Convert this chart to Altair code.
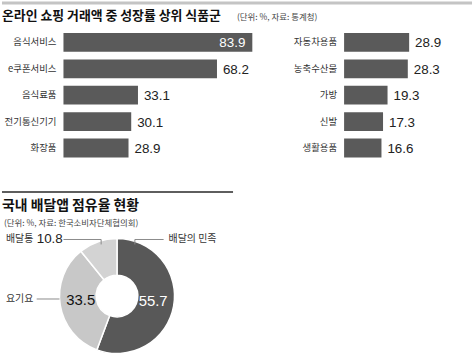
import math
import altair as alt
import pandas as pd

# ---------------- data ----------------
left_cats = ["음식서비스", "e쿠폰서비스", "음식료품", "전기통신기기", "화장품"]
left_vals = [83.9, 68.2, 33.1, 30.1, 28.9]
right_cats = ["자동차용품", "농축수산물", "가방", "신발", "생활용품"]
right_vals = [28.9, 28.3, 19.3, 17.3, 16.6]
pie_cats = ["배달의 민족", "요기요", "배달통"]
pie_vals = [55.7, 33.5, 10.8]

title1 = "온라인 쇼핑 거래액 중 성장률 상위 식품군"
sub1 = "(단위: %, 자료: 통계청)"
title2 = "국내 배달앱 점유율 현황"
sub2 = "(단위: %, 자료: 한국소비자단체협의회)"

FONT = "Noto Sans CJK KR"
NUMFONT = "Liberation Sans Narrow, Liberation Sans, Arial"
BAR = "#5a5a5a"
PX = 2.27  # pixels per unit on bar scales
ONE = pd.DataFrame({"a": [0]})


def hrule(x1, x2, y, color, sw):
    return alt.Chart(ONE).mark_rule(color=color, strokeWidth=sw).encode(
        x=alt.value(x1), x2=alt.value(x2), y=alt.value(y))


def vrule(x, y1, y2, color, sw):
    return alt.Chart(ONE).mark_rule(color=color, strokeWidth=sw).encode(
        x=alt.value(x), y=alt.value(y1), y2=alt.value(y2))


def label(txt, x, y, size, weight="normal", color="#222", align="left", font=FONT):
    return alt.Chart(pd.DataFrame({"t": [txt]})).mark_text(
        align=align, baseline="middle", fontSize=size, fontWeight=weight,
        color=color, font=font).encode(x=alt.value(x), y=alt.value(y), text="t:N")


# ---------------- row 1 : header ----------------
row1 = alt.layer(
    hrule(0, 474, 1.5, "#c4c4c4", 3),
    label(title1, 0, 15, 13, "bold", "#111"),
    label(sub1, 237, 16, 8.5, "normal", "#444"),
).properties(width=474, height=28)


# ---------------- row 2 : bar panels ----------------
def bar_panel(cats, vals, width, zero_px):
    df = pd.DataFrame({"cat": cats, "val": vals})
    sc = alt.Scale(domain=[-zero_px / PX, (width - zero_px) / PX], nice=False, zero=False)
    y = alt.Y("cat:N", sort=cats, axis=None,
              scale=alt.Scale(paddingInner=0.286, paddingOuter=0.143))
    base = alt.Chart(df).transform_calculate(zero="0").encode(y=y)
    bars = base.mark_bar(color=BAR).encode(
        x=alt.X("zero:Q", scale=sc, axis=None), x2="val:Q")
    names = base.mark_text(align="right", baseline="middle", dx=-7, fontSize=9.5,
                           color="#333", font=FONT).encode(
        x=alt.X("zero:Q", scale=sc, axis=None), text="cat:N")
    outside = base.transform_filter("datum.val < 75").mark_text(
        align="left", baseline="middle", dx=6, dy=1, fontSize=13.5,
        color="#222", font=NUMFONT).encode(
        x=alt.X("val:Q", scale=sc, axis=None), text=alt.Text("val:Q", format=".1f"))
    inside = base.transform_filter("datum.val >= 75").mark_text(
        align="right", baseline="middle", dx=-7, dy=1, fontSize=13.5,
        color="white", font=NUMFONT).encode(
        x=alt.X("val:Q", scale=sc, axis=None), text=alt.Text("val:Q", format=".1f"))
    return alt.layer(bars, names, outside, inside).properties(width=width, height=133)


row2 = alt.hconcat(
    bar_panel(left_cats, left_vals, 270, 62),
    bar_panel(right_cats, right_vals, 204, 75),
    spacing=0,
)

# ---------------- row 3 : pie ----------------
pie_df = pd.DataFrame({"cat": pie_cats, "val": pie_vals})
CX, CY = 116, 136
tsc = alt.Scale(domain=[0, 100], range=[0, 2 * math.pi], zero=True, nice=False)
pie_base = alt.Chart(pie_df).transform_window(
    end="sum(val)", sort=[alt.SortField("val", order="descending")],
    frame=[None, 0]
).transform_calculate(
    start="datum.end - datum.val", mid="datum.end - datum.val / 2"
)
arcs = pie_base.mark_arc(innerRadius=21, outerRadius=58, stroke="white",
                         strokeWidth=1.5).encode(
    theta=alt.Theta("start:Q", scale=tsc, stack=None),
    theta2="end:Q",
    color=alt.Color("cat:N", legend=None,
                    scale=alt.Scale(domain=pie_cats,
                                    range=["#585858", "#c8c8c8", "#d3d3d3"])),
    x=alt.value(CX), y=alt.value(CY))
text_white = pie_base.transform_filter("datum.cat == '배달의 민족'").mark_text(
    radius=37, fontSize=15, font=NUMFONT, baseline="middle", color="white").encode(
    theta=alt.Theta("mid:Q", scale=tsc, stack=None),
    text=alt.Text("val:Q", format=".1f"),
    x=alt.value(CX), y=alt.value(CY - 2))
text_dark = pie_base.transform_filter("datum.cat == '요기요'").mark_text(
    radius=37, fontSize=15, font=NUMFONT, baseline="middle", color="#111").encode(
    theta=alt.Theta("mid:Q", scale=tsc, stack=None),
    text=alt.Text("val:Q", format=".1f"),
    x=alt.value(CX), y=alt.value(CY - 2))

small_val = alt.Chart(pie_df).transform_filter("datum.cat == '배달통'").mark_text(
    align="left", baseline="middle", fontSize=13.5, font=NUMFONT, color="#222"
).encode(x=alt.value(35), y=alt.value(79), text=alt.Text("val:Q", format=".1f"))

row3 = alt.layer(
    hrule(0, 233, 31, "#5e5e5e", 2),
    label(title2, 0, 45, 14, "bold", "#111"),
    label(sub2, 2, 62, 8.5, "normal", "#444"),
    arcs, text_white, text_dark,
    hrule(62, 100, 79, "#8a8a8a", 1), vrule(100, 79, 84, "#8a8a8a", 1),
    hrule(134, 163, 79, "#8a8a8a", 1), vrule(134, 79, 84, "#8a8a8a", 1),
    hrule(35, 58, 139, "#8a8a8a", 1),
    label("배달통", 4, 79, 10, color="#333"),
    small_val,
    label("배달의 민족", 168, 79, 10, color="#333"),
    label("요기요", 4, 139, 10, color="#333"),
).properties(width=474, height=192)

chart = alt.vconcat(row1, row2, row3, spacing=0).configure_view(
    stroke=None).properties(padding=0)

chart.save("out.html", embed_options={"renderer": "svg", "actions": False})
